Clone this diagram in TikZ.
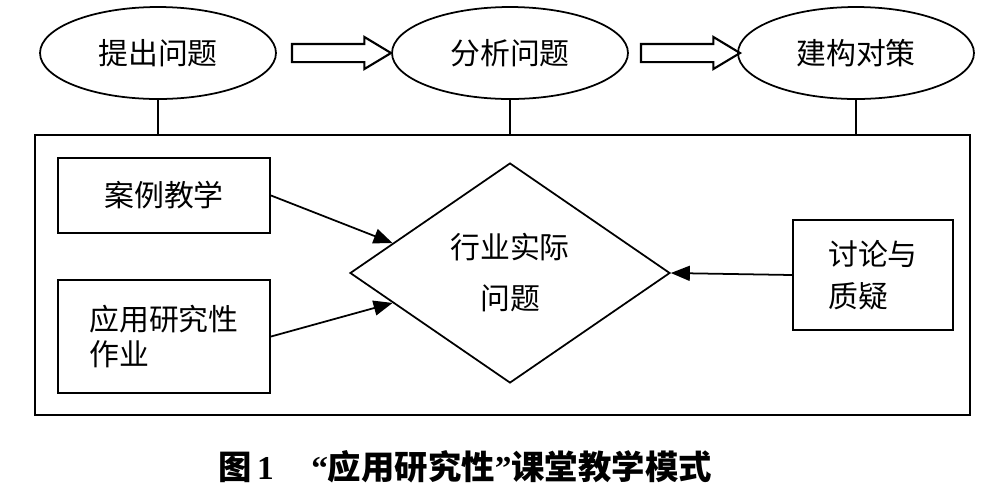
\documentclass[tikz,border=0pt]{standalone}
\usepackage{fontspec}
\newfontfamily\cjk{Noto Sans CJK SC}
\newfontfamily\xifont{Liberation Serif}
\usepackage{tikz}
\usetikzlibrary{calc,shapes.geometric,shapes.arrows,arrows.meta}

\begin{document}
\begin{tikzpicture}[x=0.02cm, y=-0.02cm, line width = 1pt,
  tuoyuan/.style={draw, ellipse, minimum width=4.72cm, minimum height=1.84cm, font=\cjk\fontsize{17}{20}\selectfont},
  kuai/.style={draw, rectangle, line width=1.2pt, font=\cjk\fontsize{17}{20}\selectfont},
  kongjt/.style={draw, single arrow, single arrow tip angle=62, single arrow head extend=0.14cm,
    inner sep=0.16cm, minimum height=1.98cm, minimum width=0.6cm, line width=1.2pt},
  jt/.style={-{Triangle[length=0.38cm,width=0.3cm]}}]
\useasboundingbox (0,0) rectangle (1000,495);  % 按像素量的坐标
% 上面三个椭圆
\node[tuoyuan] (tiwen) at (158,53) {提出问题};
\node[tuoyuan] (fenxi) at (510,53) {分析问题};
\node[tuoyuan] (jiangou) at (856,53) {建构对策};
\node[kongjt] (jt1) at ($(tiwen.east)!0.5!(fenxi.west)$) {};
\node[kongjt] (jt2) at ($(fenxi.east)!0.5!(jiangou.west)$) {};
% 大框
\node[draw, rectangle, line width=1.2pt, minimum width=18.7cm, minimum height=5.6cm] (kuang) at (502.5,275) {};
\draw[line width=1.2pt] (tiwen.south) -- (tiwen.south |- kuang.north);
\draw[line width=1.2pt] (fenxi.south) -- (fenxi.south |- kuang.north);
\draw[line width=1.2pt] (jiangou.south) -- (jiangou.south |- kuang.north);
% 框里面
\node[kuai, minimum width=4.24cm, minimum height=1.5cm] (anli) at (164,195.5) {案例教学};
\node[kuai, minimum width=4.24cm, minimum height=2.26cm, align=left,
  font=\cjk\fontsize{17}{20.4}\selectfont] (zuoye) at (164,336.5) {应用研究性\\作业};
\node[draw, diamond, aspect=1.45, minimum width=6.4cm, minimum height=4.4cm, inner sep=0pt,
  align=center, font=\cjk\fontsize{17}{29}\selectfont] (hangye) at (510,273) {行业实际\\问题};
\node[kuai, minimum width=3.2cm, minimum height=2.2cm, align=left,
  font=\cjk\fontsize{17}{24}\selectfont] (taolun) at (873,275) {讨论与\\质疑};
\draw[jt] (anli.east) -- ($(hangye.west)!0.27!(hangye.north)$);  % 粗略看出来的
\draw[jt] (zuoye.east) -- ($(hangye.west)!0.27!(hangye.south)$);
\draw[jt] (taolun.west) -- (hangye.east);
% 图注
\node[font=\cjk\bfseries\fontsize{19}{22}\selectfont] (tizhu) at (465,467)
  {图\,{\xifont\bfseries 1}\hspace{0.75cm}{\xifont\bfseries “}应用研究性{\xifont\bfseries ”}课堂教学模式};
\end{tikzpicture}
\end{document}
